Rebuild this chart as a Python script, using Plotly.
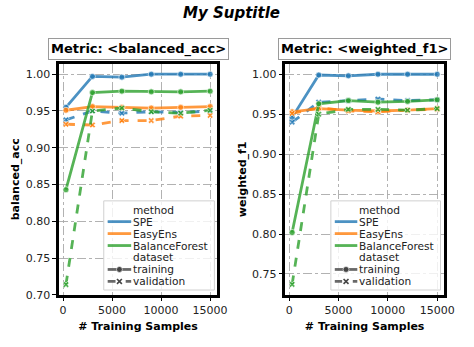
import plotly.graph_objects as go

W, H = 474, 347

# ---------------- data ----------------
x_samples = [300, 3000, 6000, 9000, 12000, 15000]
methods = ["SPE", "EasyEns", "BalanceForest"]
datasets = ["training", "validation"]
metrics = ["balanced_acc", "weighted_f1"]

bal_spe_train = [0.955, 0.997, 0.996, 1.000, 1.000, 1.000]
bal_spe_val = [0.938, 0.950, 0.947, 0.949, 0.948, 0.950]
bal_easy_train = [0.951, 0.956, 0.955, 0.954, 0.955, 0.956]
bal_easy_val = [0.932, 0.931, 0.937, 0.937, 0.943, 0.944]
bal_bf_train = [0.843, 0.975, 0.977, 0.976, 0.976, 0.977]
bal_bf_val = [0.714, 0.950, 0.954, 0.949, 0.947, 0.951]

f1_spe_train = [0.946, 0.999, 0.998, 1.000, 1.000, 1.000]
f1_spe_val = [0.940, 0.965, 0.967, 0.969, 0.967, 0.968]
f1_easy_train = [0.953, 0.957, 0.955, 0.954, 0.955, 0.957]
f1_easy_val = [0.951, 0.958, 0.954, 0.953, 0.955, 0.956]
f1_bf_train = [0.802, 0.963, 0.967, 0.965, 0.966, 0.968]
f1_bf_val = [0.737, 0.950, 0.956, 0.956, 0.955, 0.957]

series = {
    "balanced_acc": {
        ("SPE", "training"): bal_spe_train, ("SPE", "validation"): bal_spe_val,
        ("EasyEns", "training"): bal_easy_train, ("EasyEns", "validation"): bal_easy_val,
        ("BalanceForest", "training"): bal_bf_train, ("BalanceForest", "validation"): bal_bf_val,
    },
    "weighted_f1": {
        ("SPE", "training"): f1_spe_train, ("SPE", "validation"): f1_spe_val,
        ("EasyEns", "training"): f1_easy_train, ("EasyEns", "validation"): f1_easy_val,
        ("BalanceForest", "training"): f1_bf_train, ("BalanceForest", "validation"): f1_bf_val,
    },
}

x_ticks = [0, 5000, 10000, 15000]
x_tick_labels = ["0", "5000", "10000", "15000"]
y_ticks_left = [0.70, 0.75, 0.80, 0.85, 0.90, 0.95, 1.00]
y_ticks_right = [0.75, 0.80, 0.85, 0.90, 0.95, 1.00]

# ---------------- style ----------------
colors = {"SPE": "rgba(31,119,180,0.8)", "EasyEns": "rgba(255,127,14,0.8)",
          "BalanceForest": "rgba(44,160,44,0.8)"}
dashes = {"training": "solid", "validation": "dash"}
symbols = {"training": "circle", "validation": "x"}
FONT = "DejaVu Sans"

def px_x(p):
    return p / W

def px_y(p):
    return 1 - p / H

panels = [
    dict(metric="balanced_acc", xd=(60, 222), yrange=[0.700, 1.0143], yticks=y_ticks_left,
         leg=(106, 219, 137)),
    dict(metric="weighted_f1", xd=(291, 454), yrange=[0.7238, 1.0132], yticks=y_ticks_right,
         leg=(338, 450, 368)),
]
y_top, y_bot = 65, 301

fig = go.Figure()
shapes = []
annotations = []

for i, p in enumerate(panels):
    ax = "" if i == 0 else str(i + 1)
    xref, yref = "x" + ax, "y" + ax
    for m in methods:
        for d in datasets:
            fig.add_trace(go.Scatter(
                x=x_samples, y=series[p["metric"]][(m, d)],
                xaxis=xref, yaxis=yref, mode="lines+markers",
                line=dict(color=colors[m], width=2.8, dash=dashes[d]),
                marker=dict(symbol=symbols[d], size=6 if d == "training" else 5.5,
                            color=colors[m], line=dict(color="white", width=0.6)),
                showlegend=False, hoverinfo="skip"))
    axis_common = dict(showline=True, linecolor="black", linewidth=2.5, mirror=True,
                       ticks="outside", ticklen=3.5, tickwidth=1, tickcolor="black",
                       showgrid=True, gridcolor="rgba(170,170,170,0.9)", gridwidth=0.8,
                       griddash="dashdot", zeroline=False,
                       tickfont=dict(family=FONT, size=11, color="#222"))
    fig.update_layout(**{
        "xaxis" + ax: dict(axis_common, domain=[px_x(p["xd"][0]), px_x(p["xd"][1])],
                           range=[-435, 15735], tickvals=x_ticks, ticktext=x_tick_labels,
                           anchor=yref,
                           title=dict(text="<b># Training Samples</b>",
                                      font=dict(family=FONT, size=11, color="black"),
                                      standoff=6)),
        "yaxis" + ax: dict(axis_common, domain=[px_y(y_bot), px_y(y_top)],
                           range=p["yrange"], tickvals=p["yticks"], tickformat=".2f",
                           anchor=xref,
                           title=dict(text="<b>%s</b>" % p["metric"],
                                      font=dict(family=FONT, size=11, color="black"),
                                      standoff=4)),
    })
    # subplot title
    annotations.append(dict(
        x=px_x((p["xd"][0] + p["xd"][1]) / 2), y=px_y(50.5), xref="paper", yref="paper",
        text="<b>Metric: <%s></b>" % p["metric"], showarrow=False,
        font=dict(family=FONT, size=13, color="black"),
        bgcolor="white", bordercolor="#9a9a9a", borderwidth=1, borderpad=2,
        xanchor="center", yanchor="middle"))

    # legend (drawn with shapes + text)
    lx0, lx1, tx = p["leg"]
    shapes.append(dict(type="rect", xref="paper", yref="paper",
                       x0=px_x(lx0), x1=px_x(lx1), y0=px_y(296), y1=px_y(205),
                       fillcolor="rgba(255,255,255,0.8)", line=dict(color="#d0d0d0", width=1),
                       layer="above"))
    rows = [214, 226.2, 238.4, 250.6, 262.8, 275, 287.2]
    labels = ["method"] + methods + ["dataset"] + datasets
    hx0, hx1 = lx0 + 4, tx - 3
    for r, lab in zip(rows, labels):
        annotations.append(dict(x=px_x(tx - 2), y=px_y(r), xref="paper", yref="paper",
                                text=lab, showarrow=False, xanchor="left", yanchor="middle",
                                borderpad=0,
                                font=dict(family=FONT, size=10.6, color="#222")))
        if lab in methods:
            shapes.append(dict(type="line", xref="paper", yref="paper", layer="above",
                               x0=px_x(hx0), x1=px_x(hx1), y0=px_y(r), y1=px_y(r),
                               line=dict(color=colors[lab], width=2.8)))
        elif lab in datasets:
            shapes.append(dict(type="line", xref="paper", yref="paper", layer="above",
                               x0=px_x(hx0), x1=px_x(hx1), y0=px_y(r), y1=px_y(r),
                               line=dict(color="rgba(68,68,68,0.8)", width=2.8,
                                         dash="solid" if lab == "training" else "dash")))
            cx = (hx0 + hx1) / 2
            if lab == "training":
                shapes.append(dict(type="circle", xref="paper", yref="paper", layer="above",
                                   x0=px_x(cx - 3), x1=px_x(cx + 3),
                                   y0=px_y(r + 3), y1=px_y(r - 3),
                                   fillcolor="rgba(68,68,68,1)", line=dict(color="white", width=0.6)))
            else:
                shapes.append(dict(type="rect", xref="paper", yref="paper", layer="above",
                                   x0=px_x(cx - 4), x1=px_x(cx + 4),
                                   y0=px_y(r + 3), y1=px_y(r - 3),
                                   fillcolor="white", line=dict(width=0)))
                for a, b in [((-2.5, -2.5), (2.5, 2.5)), ((-2.5, 2.5), (2.5, -2.5))]:
                    shapes.append(dict(type="line", xref="paper", yref="paper", layer="above",
                                       x0=px_x(cx + a[0]), x1=px_x(cx + b[0]),
                                       y0=px_y(r + a[1]), y1=px_y(r + b[1]),
                                       line=dict(color="rgba(68,68,68,1)", width=1.6)))

annotations.append(dict(x=px_x(236), y=px_y(13.5), xref="paper", yref="paper",
                        text="<b><i>My Suptitle</i></b>", showarrow=False,
                        xanchor="center", yanchor="middle",
                        font=dict(family=FONT, size=15, color="black")))

fig.update_layout(width=W, height=H, margin=dict(l=0, r=0, t=0, b=0),
                  paper_bgcolor="white", plot_bgcolor="white",
                  shapes=shapes, annotations=annotations, showlegend=False)

fig.write_html("out.html")
